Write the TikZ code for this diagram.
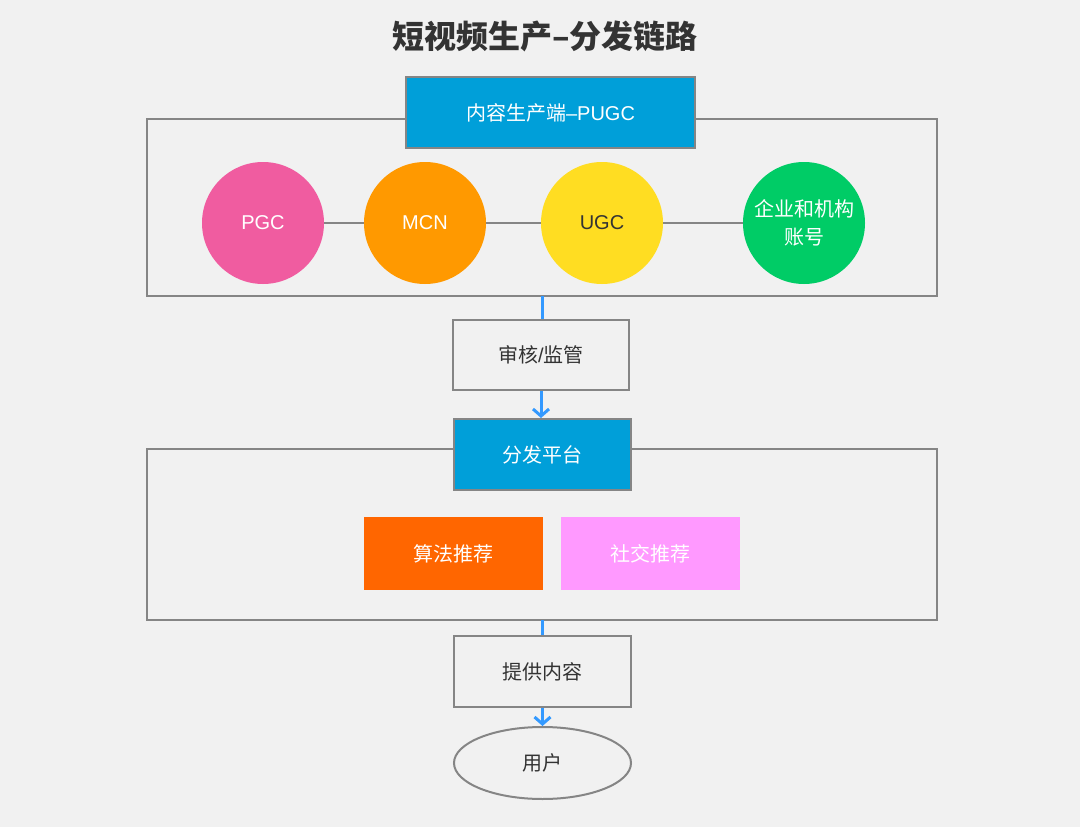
\documentclass[tikz,border=0pt]{standalone}
\usepackage{fontspec}
\setmainfont{Noto Sans CJK SC}
\newfontfamily\latfont{Liberation Sans}
\usetikzlibrary{arrows.meta,shapes.geometric}
\definecolor{bg}{HTML}{F1F1F1}
\definecolor{bordergray}{HTML}{858585}
\definecolor{headblue}{HTML}{009FD9}
\definecolor{flowblue}{HTML}{3399FF}
\definecolor{cpink}{HTML}{F05CA0}
\definecolor{corange}{HTML}{FF9900}
\definecolor{cyellow}{HTML}{FFDD22}
\definecolor{cgreen}{HTML}{00CC66}
\definecolor{algoorange}{HTML}{FF6600}
\definecolor{socialpink}{HTML}{FF99FF}
\definecolor{txtdark}{HTML}{333333}
\tikzset{
  lbl/.style={font=\fontsize{20}{28}\selectfont},
  group/.style={draw=bordergray, line width=2pt, fill=bg},
  header/.style={draw=bordergray, line width=2pt, fill=headblue, text=white, lbl, minimum width=289pt, minimum height=71pt, inner sep=0pt},
  plainbox/.style={draw=bordergray, line width=2pt, fill=bg, text=txtdark, lbl, minimum width=177pt, minimum height=71pt, inner sep=0pt},
  circ/.style={circle, minimum size=122pt, inner sep=0pt, text=white, lbl, align=center},
  recbox/.style={minimum width=179pt, minimum height=73pt, inner sep=0pt, text=white, lbl},
  link/.style={draw=bordergray, line width=2pt},
  flow/.style={draw=flowblue, line width=3pt},
  flowarrow/.style={flow, -{Straight Barb[length=7pt,width=16pt,line width=3pt]}},
}
\begin{document}
\begin{tikzpicture}[x=1pt,y=-1pt]
\fill[bg] (0,0) rectangle (1080,827);
\useasboundingbox (0,0) rectangle (1080,827);
\node[font=\fontsize{32}{36}\selectfont\bfseries, text=txtdark] (title) at (545,36) {短视频生产–分发链路};
% top group
\node[group, minimum width=790pt, minimum height=177pt, inner sep=0pt] (topgroup) at (542,207.5) {};
\node[header] (pugc) at (550.5,112.5) {内容生产端{\latfont –PUGC}};
\node[circ, fill=cpink] (pgc) at (263,223) {\latfont PGC};
\node[circ, fill=corange] (mcn) at (425,223) {\latfont MCN};
\node[circ, fill=cyellow, text=txtdark] (ugc) at (602,223) {\latfont UGC};
\node[circ, fill=cgreen] (org) at (804,223) {企业和机构\\账号};
\draw[link] (pgc) -- (mcn);
\draw[link] (mcn) -- (ugc);
\draw[link] (ugc) -- (org);
% review
\node[plainbox, minimum width=176pt, minimum height=70pt] (review) at (541,355) {审核{\latfont /}监管};
% middle group
\node[group, minimum width=790pt, minimum height=171pt, inner sep=0pt] (midgroup) at (542,534.5) {};
\node[header, minimum width=177pt] (platform) at (542.5,454.5) {分发平台};
\node[recbox, fill=algoorange] (algo) at (453.5,553.5) {算法推荐};
\node[recbox, fill=socialpink] (social) at (650,553.5) {社交推荐};
% bottom
\node[plainbox] (provide) at (542.5,671.5) {提供内容};
\node[ellipse, draw=bordergray, line width=2pt, fill=bg, text=txtdark, lbl, minimum width=177pt, minimum height=72pt, inner sep=0pt] (user) at (542.5,763) {用户};
\coordinate (tg) at (542,296);
\coordinate (mg) at (542,620);
\draw[flow] (tg) -- (tg |- review.north);
\draw[flowarrow] (review.south) -- (review.south |- platform.north);
\draw[flow] (mg) -- (mg |- provide.north);
\draw[flowarrow] (provide.south) -- (user.north);
\end{tikzpicture}
\end{document}
